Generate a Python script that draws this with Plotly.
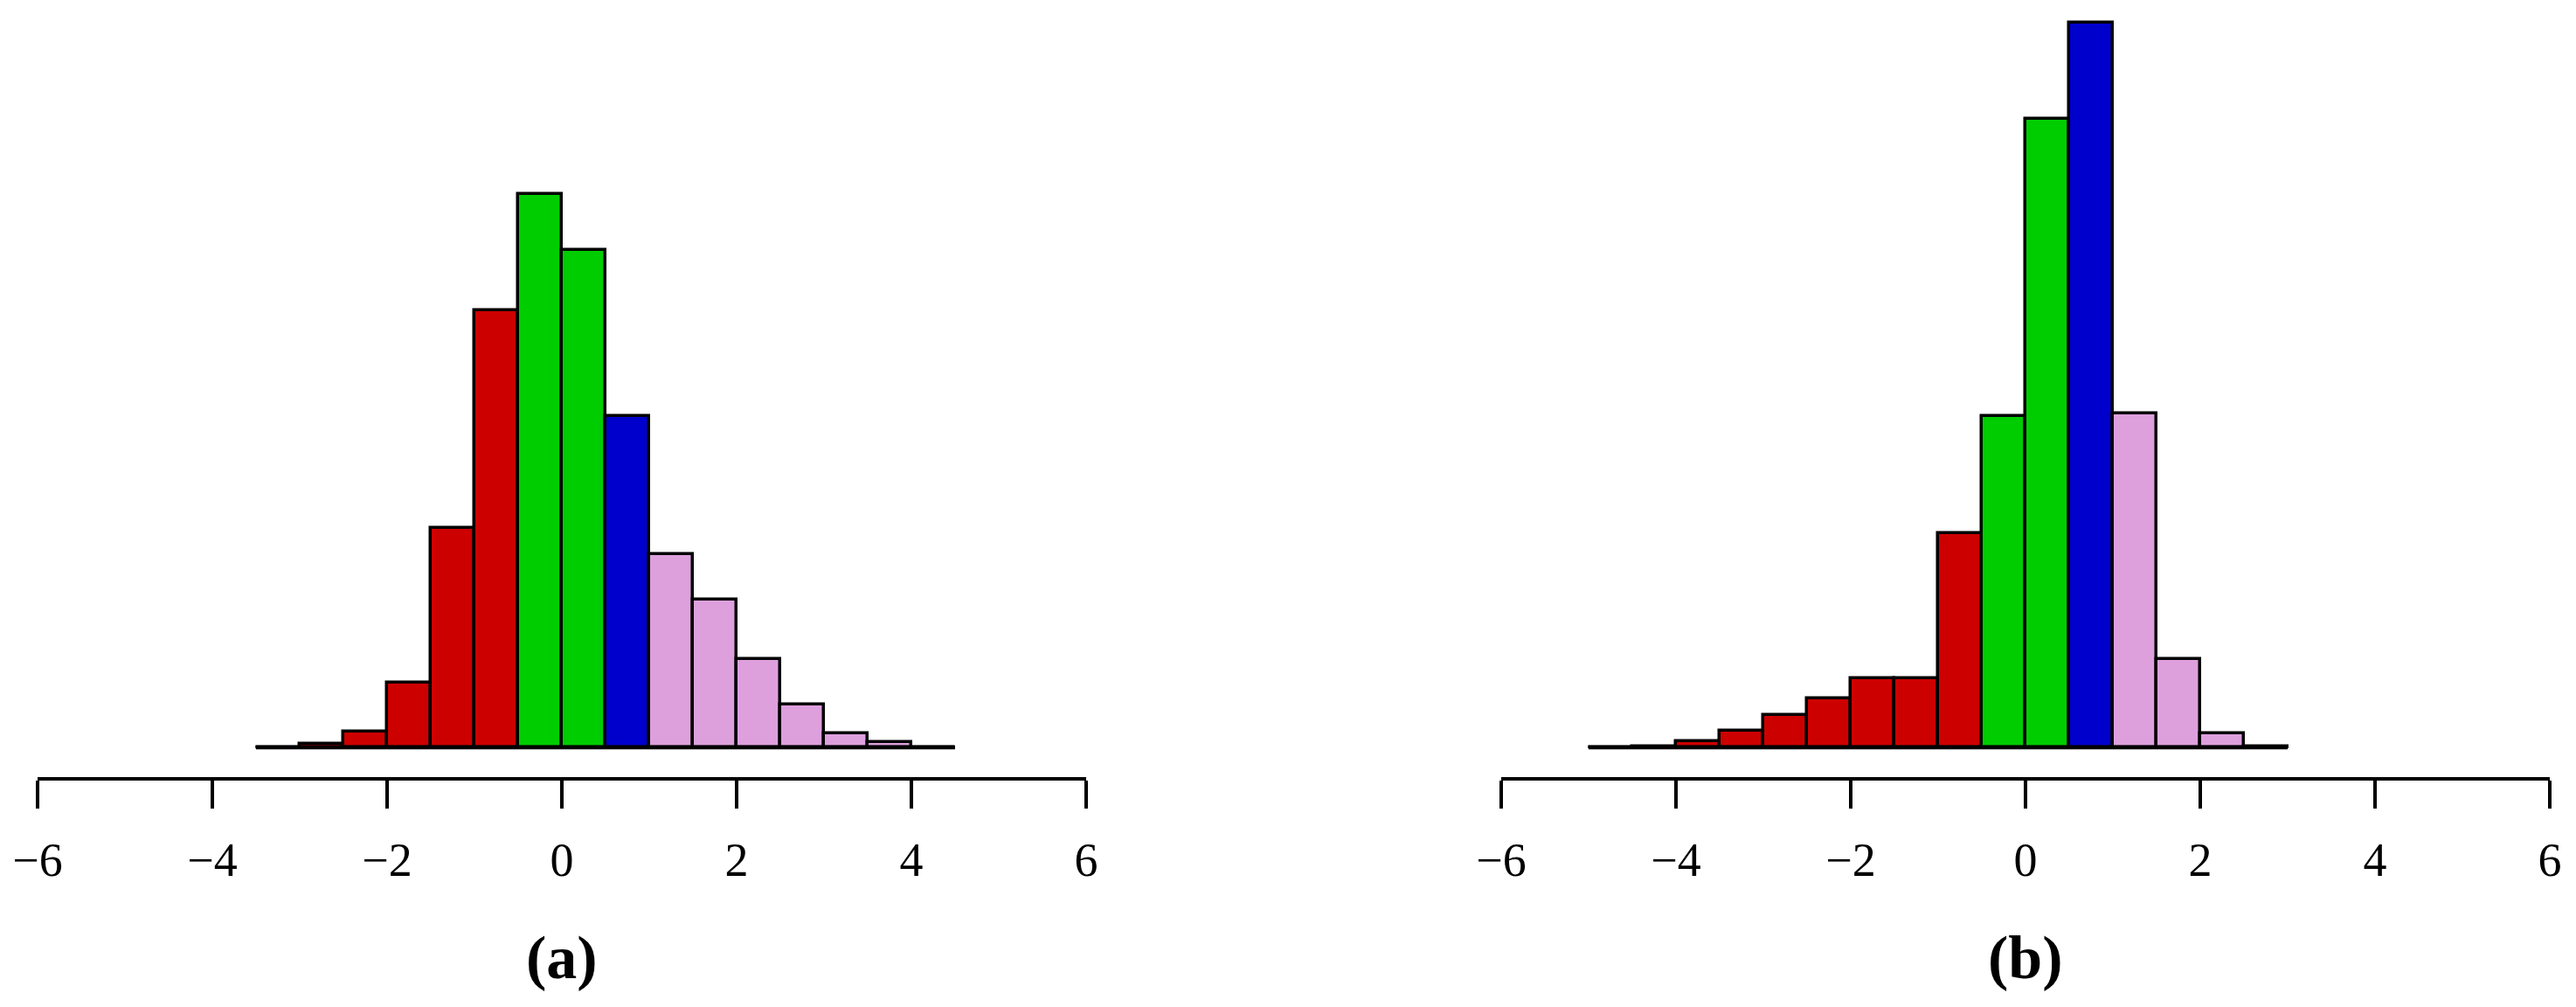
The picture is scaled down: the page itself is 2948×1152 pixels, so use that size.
import plotly.graph_objects as go

# bin left edges, bin width 0.5
bins_a = [-3.5, -3.0, -2.5, -2.0, -1.5, -1.0, -0.5, 0.0, 0.5, 1.0, 1.5, 2.0, 2.5, 3.0, 3.5, 4.0]
dens_a = [0.0, 0.003, 0.012, 0.050, 0.169, 0.337, 0.426, 0.383, 0.255, 0.149, 0.114, 0.068, 0.033, 0.011, 0.004, 0.0]

bins_b = [-5.0, -4.5, -4.0, -3.5, -3.0, -2.5, -2.0, -1.5, -1.0, -0.5, 0.0, 0.5, 1.0, 1.5, 2.0, 2.5]
dens_b = [0.0, 0.001, 0.005, 0.013, 0.025, 0.038, 0.053, 0.053, 0.165, 0.255, 0.484, 0.558, 0.257, 0.068, 0.011, 0.001]

bin_width = 0.5
tick_vals = [-6, -4, -2, 0, 2, 4, 6]
tick_text = ["\u22126", "\u22124", "\u22122", "0", "2", "4", "6"]
panel_labels = ["(a)", "(b)"]


def bin_color(left):
    if left < -0.5:
        return "#CD0000"
    if left < 0.5:
        return "#00CD00"
    if left < 1.0:
        return "#0000CD"
    return "#DDA0DD"


W, H = 2948, 1152
baseline_px = 855       # pixel row of density 0
px_per_unit = 1485      # pixels per density unit
axis_px = 891           # pixel row of x axis line

fig = go.Figure()

for i, (bins, dens) in enumerate([(bins_a, dens_a), (bins_b, dens_b)]):
    xa = "x" if i == 0 else "x2"
    ya = "y" if i == 0 else "y2"
    fig.add_trace(go.Bar(
        x=[b + bin_width / 2 for b in bins], y=dens, width=bin_width,
        marker=dict(color=[bin_color(b) for b in bins],
                    line=dict(color="black", width=3.5)),
        xaxis=xa, yaxis=ya, showlegend=False, hoverinfo="x+y",
    ))
    # zero line along the bins, as R draws empty cells
    fig.add_trace(go.Scatter(
        x=[bins[0], bins[-1] + bin_width], y=[0, 0], mode="lines",
        line=dict(color="black", width=4.5), xaxis=xa, yaxis=ya,
        showlegend=False, hoverinfo="skip",
    ))

y_range = [-(H - baseline_px) / px_per_unit, baseline_px / px_per_unit]
axis_pos = (H - axis_px) / H

xaxis_style = dict(
    range=[-6, 6], anchor="free", position=axis_pos, automargin=False,
    showline=True, linecolor="black", linewidth=3.5,
    ticks="outside", ticklen=32, tickwidth=3.5, tickcolor="black",
    tickvals=tick_vals, ticktext=tick_text, showgrid=False, zeroline=False,
    tickfont=dict(family="Liberation Serif", size=54, color="black"),
    ticklabelstandoff=12,
)
yaxis_style = dict(range=y_range, domain=[0, 1], visible=False,
                   fixedrange=True, automargin=False)

fig.update_layout(
    template="none",
    width=W, height=H,
    margin=dict(l=0, r=0, t=0, b=0, pad=0, autoexpand=False),
    paper_bgcolor="white", plot_bgcolor="white",
    xaxis=dict(domain=[43 / W, 1243 / W], **xaxis_style),
    xaxis2=dict(domain=[1718 / W, 2918 / W], **xaxis_style),
    yaxis=yaxis_style,
    yaxis2=dict(anchor="x2", **yaxis_style),
    bargap=0,
)

for i, label in enumerate(panel_labels):
    fig.add_annotation(
        text="<b>" + label + "</b>", xref="x" if i == 0 else "x2", yref="paper",
        x=0, y=(H - 1095) / H, xanchor="center", yanchor="middle",
        showarrow=False, font=dict(family="Liberation Serif", size=70, color="black"),
    )

fig.write_html("out.html", config={"displayModeBar": False},
               post_script="document.body.style.margin='0';")
